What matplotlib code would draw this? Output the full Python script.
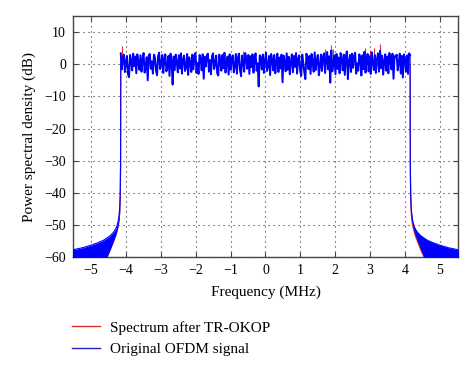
import numpy as np
import matplotlib
matplotlib.use("Agg")
import matplotlib.pyplot as plt

plt.rcParams['font.family'] = ['Liberation Serif', 'DejaVu Serif']
plt.rcParams['axes.unicode_minus'] = True

# PSD trace inside the occupied band (dB)
band_edge = 4.15
blue_db = [
    3.4, -1.6, 2.1, 3.0, -2.4, 0.8, 2.6, -3.1, -4.0, 2.9, 1.2, -1.9, 3.3, -0.6,
    2.4, -2.8, 3.1, 0.5, -1.7, 2.8, -2.3, 1.6, 3.5, -2.6, -1.2, 2.2, -5.0, 2.7,
    3.2, -1.4, 0.9, -2.9, 3.0, 2.1, -2.0, -3.4, 2.5, 3.6, -1.5, 0.3, 2.9, -2.7,
    1.8, 3.1, -2.2, -0.8, 2.6, -3.6, 3.3, 1.0, -6.3, 2.4, -1.8, 3.0, 0.6, -2.5,
    2.8, -1.3, 3.4, -2.9, 1.5, 2.7, -2.1, -0.9, 3.2, -3.3, 2.2, 0.7, -2.4, 3.0,
    -1.6, 2.5, 3.5, -2.7, 0.4, -3.0, 2.9, 1.8, -1.9, 3.1, -4.5, 2.3, -0.7, 2.8,
    3.3, -2.3, 1.3, -3.1, 2.6, 3.4, -1.5, 0.2, 2.7, -2.8, -3.5, 3.0, 1.1, -2.0,
    2.9, -1.2, 3.6, -2.6, 0.9, 2.4, -3.2, 3.1, -1.7, 1.4, 2.8, -2.5, -0.5, 3.2,
    -2.9, 2.0, 3.3, -1.8, -3.7, 2.7, 0.8, -2.3, 3.5, 1.6, -1.4, 2.9, -3.0, 2.5,
    -0.9, 3.1, -2.6, 1.9, 3.4, -2.0, 0.3, -6.9, 2.8, 2.2, -1.6, 3.0, -2.7, 1.2,
    3.6, -2.1, -0.4, 2.6, -3.4, 3.2, 1.5, -1.9, 2.9, -2.8, 0.6, 3.3, -2.4, 2.1,
    -1.3, 3.0, -5.6, 2.7, 1.0, -2.2, 3.4, -1.7, 2.3, -3.1, 0.9, 3.1, -2.5, 2.6,
    -0.8, 3.5, -2.9, 1.7, 2.8, -2.0, -3.6, 3.0, 0.4, -2.6, -4.6, 3.3, 1.9, -1.5,
    2.6, -3.0, 3.2, 0.7, -2.3, 3.7, -1.8, 1.3, 2.9, -3.4, -0.6, 3.0, -2.1, 2.4,
    3.4, -2.7, 1.1, 3.8, -1.6, 2.5, -5.7, 4.3, -2.2, 0.5, 2.7, -3.1, 3.2, -1.4,
    2.1, -2.8, 3.5, 1.4, -1.9, 3.0, -3.3, 2.4, 4.0, -4.6, 0.8, 2.9, -2.4, 3.3,
    -1.1, 2.6, 3.6, -2.9, 0.3, -2.0, 3.1, 1.8, -3.5, 2.8, -1.5, 3.9, -2.6, 1.0,
    3.2, -2.2, 2.5, -3.0, 3.7, 0.6, -1.8, 2.9, -2.7, 1.5, 3.4, -2.3, 4.2, -1.2,
    2.7, -3.2, 0.9, 3.1, -2.0, 2.4, -2.8, 3.5, 1.2, -1.6, 3.3, -4.5, 2.5, 2.2,
    3.0, -1.9, 0.5, 3.3, -2.9, 2.6, -4.1, 3.1, 1.6, -2.3, 2.8, -3.0, 3.4, 2.9,
]

# peaks of the TR-OKOP spectrum that stick out above the original one
red_spike_f = [-4.12, -0.63, 1.72, 1.87, 1.95, 2.87, 3.0, 3.1, 3.28]
red_spike_db = [5.7, 4.2, 4.6, 6.0, 4.9, 5.1, 4.5, 5.0, 6.4]

# out-of-band skirt (same on both sides): upper / lower envelope in dB
skirt_f = [4.15, 4.155, 4.165, 4.18, 4.20, 4.23, 4.26, 4.30, 4.36, 4.45,
           4.55, 4.65, 4.80, 5.00, 5.25, 5.60]
skirt_hi = [0, -30, -40, -44.5, -47, -49, -50.2, -51.2, -52.2, -53.2,
            -54, -54.7, -55.4, -56.2, -57, -57.8]
skirt_lo = [0, -32, -42, -46, -48.5, -50.5, -51.8, -53.3, -55, -57.5,
            -60, -61.8, -64, -66.5, -69, -72]

band_f = np.linspace(-band_edge, band_edge, len(blue_db))
sf = np.array(skirt_f)
shi = np.array(skirt_hi)
slo = np.array(skirt_lo)

fig = plt.figure(figsize=(4.74, 3.72), dpi=100)
ax = fig.add_axes([0.154, 0.308, 0.812, 0.649])

# red spectrum (mostly hidden behind the blue one)
ax.plot(sf, slo, color='#e03030', lw=0.9, zorder=2)
ax.plot(-sf, slo, color='#e03030', lw=0.9, zorder=2)
ax.vlines(red_spike_f, 1.0, red_spike_db, color='#e03030', lw=0.8, zorder=2)

# blue spectrum
ax.fill_between(sf, slo, shi, color='#0000ff', lw=0, zorder=3)
ax.fill_between(-sf, slo, shi, color='#0000ff', lw=0, zorder=3)
ax.plot(band_f, blue_db, color='#0000ff', lw=1.4, zorder=3)
left_f = np.concatenate([-sf[::-1], [-band_edge]])
left_db = np.concatenate([shi[::-1], [blue_db[0]]])
right_f = np.concatenate([[band_edge], sf])
right_db = np.concatenate([[blue_db[-1]], shi])
ax.plot(left_f, left_db, color='#0000ff', lw=0.8, zorder=3)
ax.plot(right_f, right_db, color='#0000ff', lw=0.8, zorder=3)

ax.set_xlim(-5.52, 5.52)
ax.set_ylim(-60, 15)
ax.set_xticks(range(-5, 6))
ax.set_yticks(range(-60, 11, 10))
ax.grid(True, linestyle=(0, (1, 3.5)), color='#333333', lw=0.8)
ax.tick_params(direction='in', top=True, right=True, length=3.5,
               labelsize=10, color='#444444', pad=5)
for s in ax.spines.values():
    s.set_color('#444444')
    s.set_linewidth(1.0)

ax.set_xlabel('Frequency (MHz)', fontsize=11, labelpad=6)
ax.set_ylabel('Power spectral density (dB)', fontsize=11, labelpad=6)

ax.plot([], [], color='#e03030', lw=1.0, label='Spectrum after TR-OKOP')
ax.plot([], [], color='#2020c0', lw=1.0, label='Original OFDM signal')
fig.legend(loc='upper left', bbox_to_anchor=(0.152, 0.137), frameon=False,
           fontsize=11, handlelength=1.8, handletextpad=0.7,
           labelspacing=0.5, borderpad=0, borderaxespad=0)

fig.savefig('out.png', dpi=100)
